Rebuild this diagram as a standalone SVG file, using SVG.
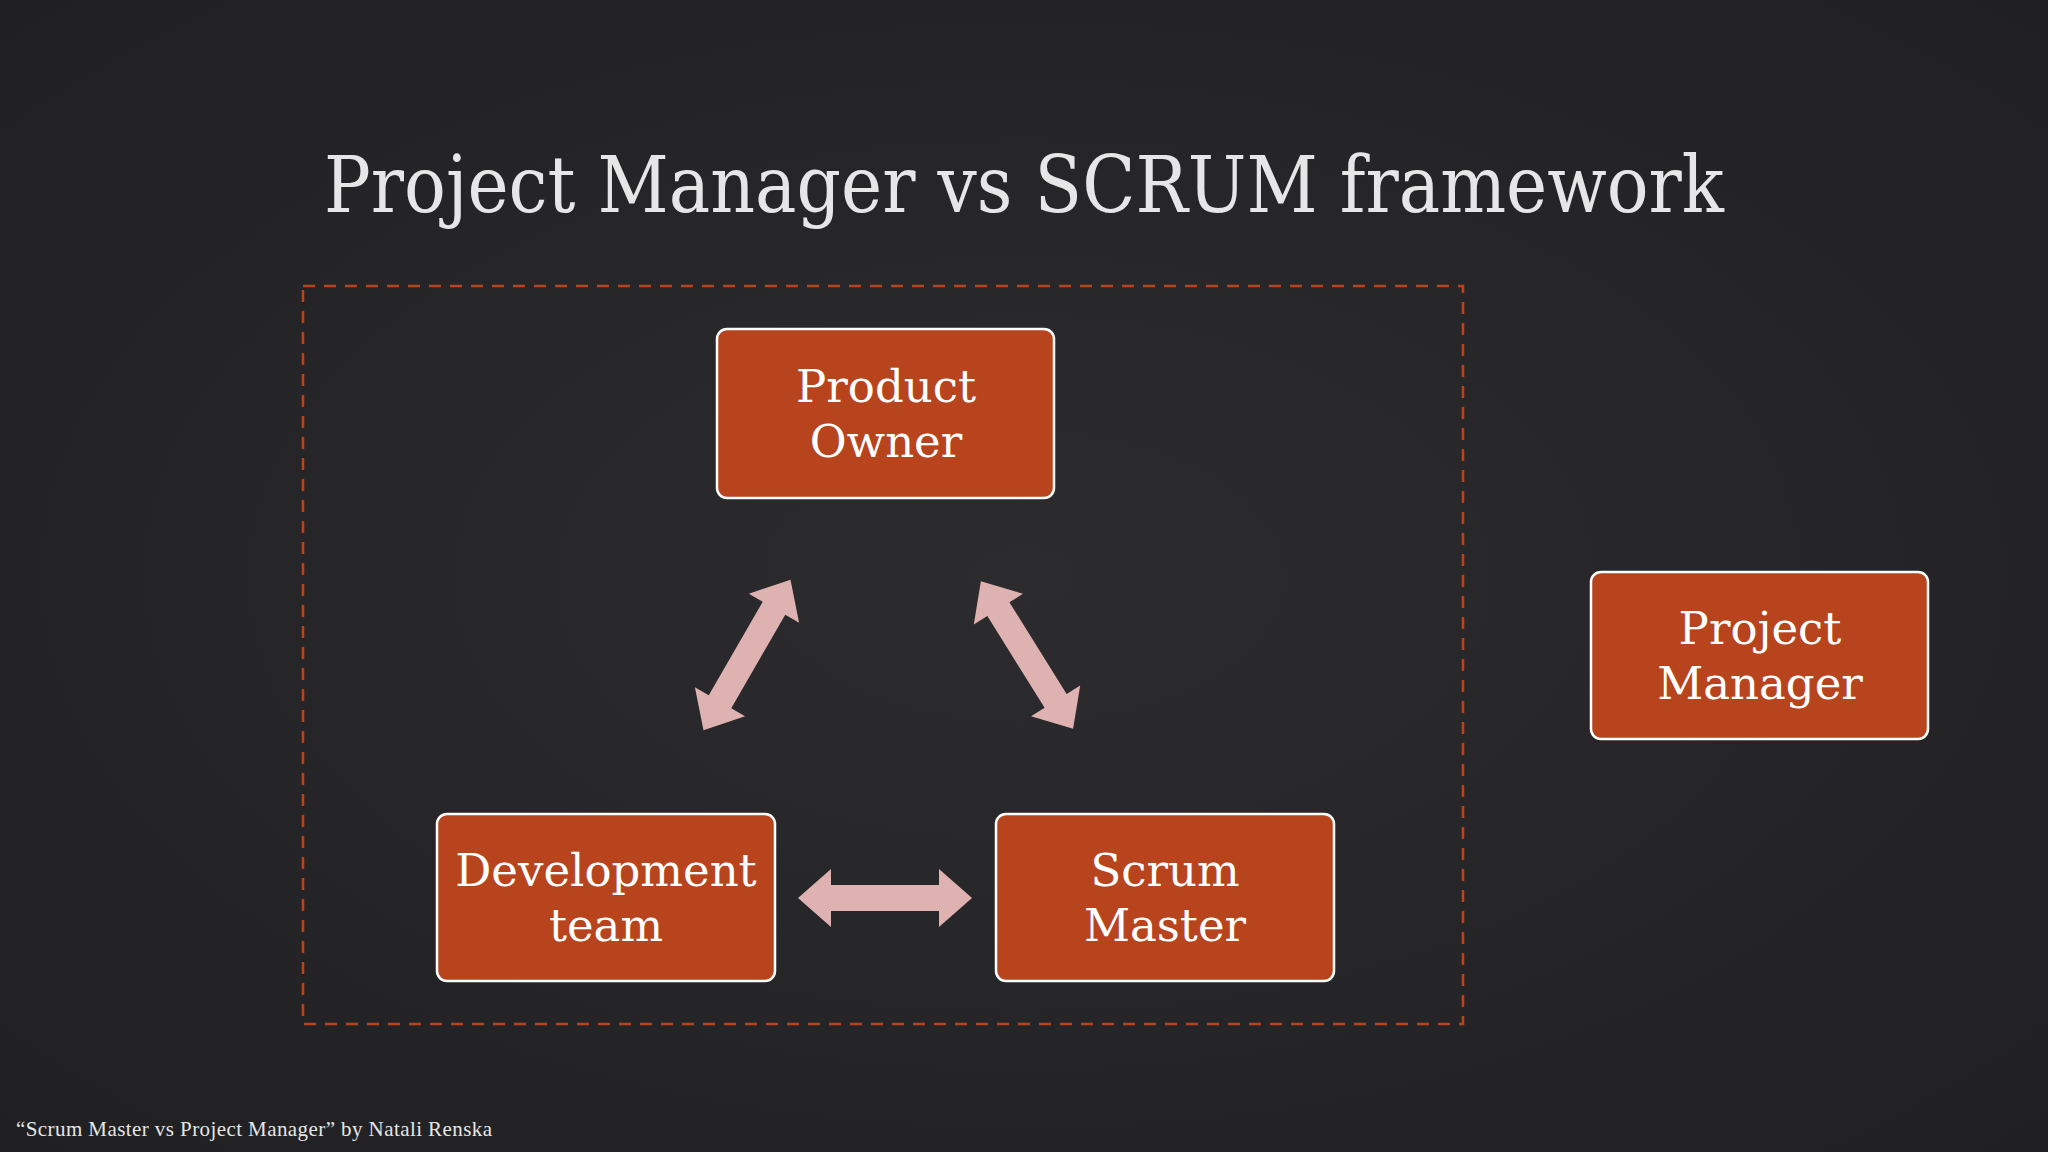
<svg xmlns="http://www.w3.org/2000/svg" width="2048" height="1152" viewBox="0 0 2048 1152">
<defs>
<radialGradient id="bg" cx="50%" cy="50%" r="75%">
<stop offset="0" stop-color="#2c2c2f"/><stop offset="1" stop-color="#1f1f21"/>
</radialGradient>
<path id="dbl" d="M-87,0 L-54,-29 L-54,-13 L54,-13 L54,-29 L87,0 L54,29 L54,13 L-54,13 L-54,29 Z"/>
</defs>
<style>
.box{fill:#B8441E;stroke:#fff;stroke-width:2.5}
.lbl{font-family:"DejaVu Serif","Liberation Serif",serif;font-size:45px;fill:#fff;text-anchor:middle}
.arr{fill:#DDB2B0}
</style>
<rect width="2048" height="1152" fill="url(#bg)"/>
<text x="324" y="212" font-family="DejaVu Serif,Liberation Serif,serif" font-size="78" fill="#e6e6e6" textLength="1400" lengthAdjust="spacingAndGlyphs">Project Manager vs SCRUM framework</text>
<rect x="303" y="286" width="1160" height="738" fill="none" stroke="#B8441E" stroke-width="2.5" stroke-dasharray="12 9"/>
<g id="connectors" class="arr">
<use href="#dbl" transform="translate(885,898)"/>
<use href="#dbl" transform="translate(747,655) rotate(-60)"/>
<use href="#dbl" transform="translate(1027,655) rotate(58)"/>
</g>
<g id="po"><rect class="box" x="717" y="329" width="337" height="169" rx="10"/>
<text class="lbl" x="886" y="402">Product</text><text class="lbl" x="886" y="457">Owner</text></g>
<g id="dev"><rect class="box" x="437" y="814" width="338" height="167" rx="10"/>
<text class="lbl" x="606" y="886">Development</text><text class="lbl" x="606" y="941">team</text></g>
<g id="sm"><rect class="box" x="996" y="814" width="338" height="167" rx="10"/>
<text class="lbl" x="1165" y="886">Scrum</text><text class="lbl" x="1165" y="941">Master</text></g>
<g id="pm"><rect class="box" x="1591" y="572" width="337" height="167" rx="10"/>
<text class="lbl" x="1760" y="644">Project</text><text class="lbl" x="1760" y="699">Manager</text></g>
<text x="16" y="1136" font-family="Liberation Serif,serif" font-size="21" fill="#e6e6e6" textLength="476">“Scrum Master vs Project Manager” by Natali Renska</text>
</svg>
